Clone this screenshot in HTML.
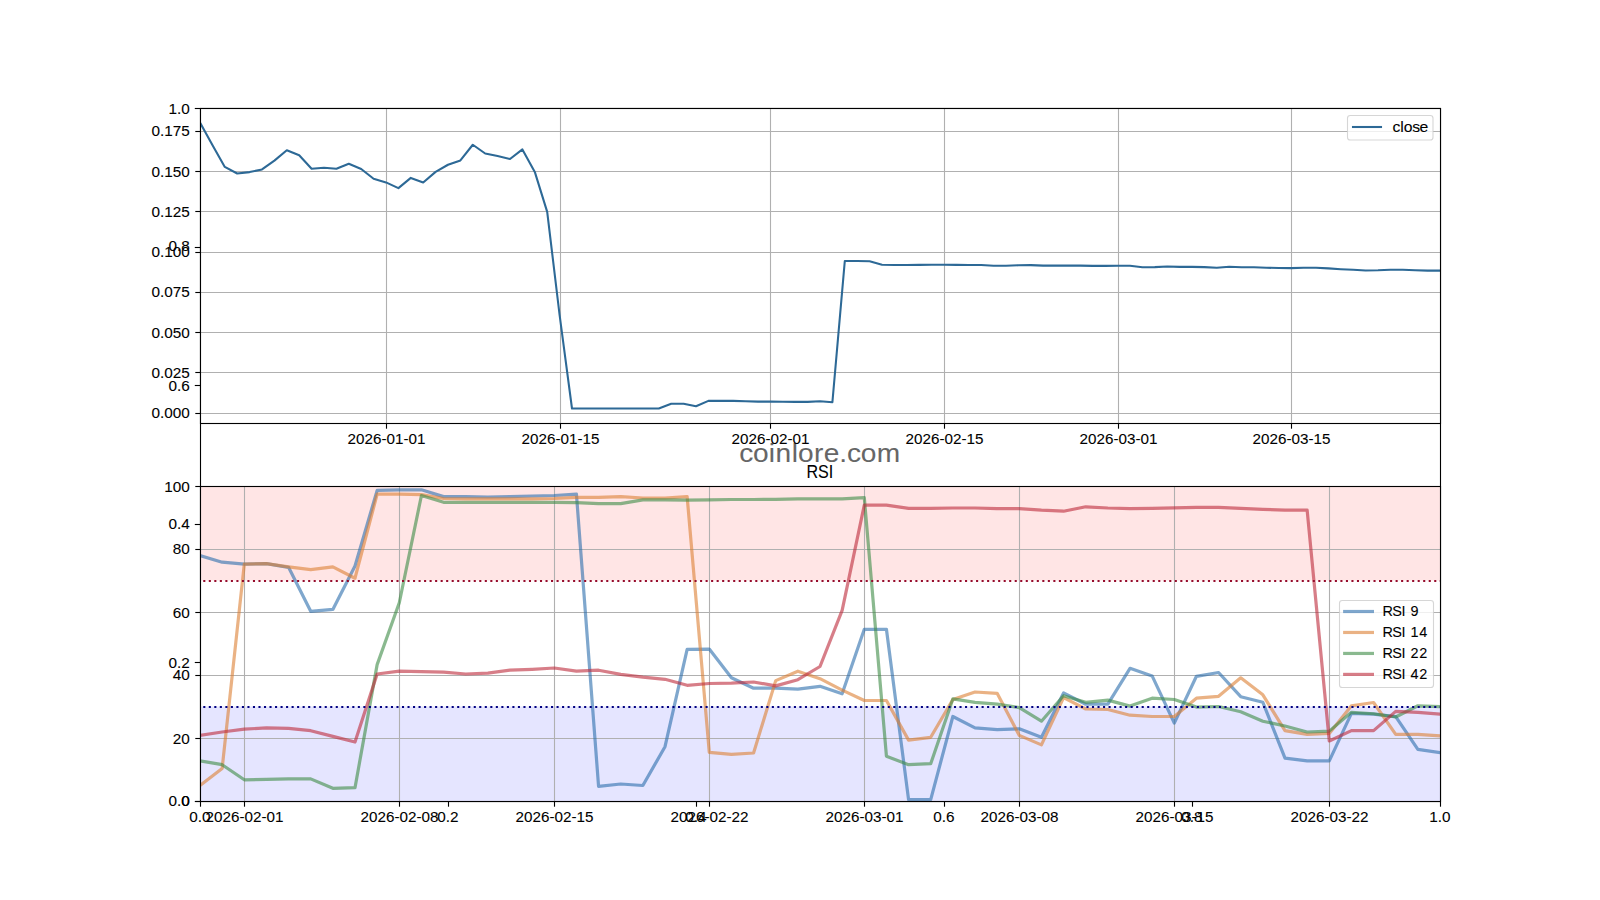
<!DOCTYPE html>
<html><head><meta charset="utf-8"><style>
html,body{margin:0;padding:0;background:#fff;}
svg{display:block;}
text{font-family:"Liberation Sans",sans-serif;stroke-width:0.08px;paint-order:stroke;}
</style></head><body>
<svg width="1600" height="900" viewBox="0 0 1600 900">
<defs><clipPath id="cTop"><rect x="200" y="108" width="1240" height="315"/></clipPath><clipPath id="cBot"><rect x="200" y="486" width="1240" height="315"/></clipPath></defs>
<rect x="0" y="0" width="1600" height="900" fill="#fff"/>
<text transform="scale(1.08,1)" x="684.54 697.26 711.91 718.12 733.02 738.98 753.71 762.69 777.10 784.26 796.98 811.74" y="462.00" font-size="26.00" fill="#666666" stroke="#666666">coinlore.com</text>
<line x1="194.80" y1="108.50" x2="200" y2="108.50" stroke="#000" stroke-width="1.11"/>
<text x="168.59" y="114.00" font-size="13.89" fill="#000" stroke="#000" textLength="21.31" lengthAdjust="spacingAndGlyphs">1.0</text>
<line x1="194.80" y1="247.50" x2="200" y2="247.50" stroke="#000" stroke-width="1.11"/>
<text x="168.59" y="251.00" font-size="13.89" fill="#000" stroke="#000" textLength="21.31" lengthAdjust="spacingAndGlyphs">0.8</text>
<line x1="194.80" y1="385.50" x2="200" y2="385.50" stroke="#000" stroke-width="1.11"/>
<text x="168.59" y="391.00" font-size="13.89" fill="#000" stroke="#000" textLength="21.31" lengthAdjust="spacingAndGlyphs">0.6</text>
<line x1="194.80" y1="524.50" x2="200" y2="524.50" stroke="#000" stroke-width="1.11"/>
<text x="168.59" y="529.00" font-size="13.89" fill="#000" stroke="#000" textLength="21.31" lengthAdjust="spacingAndGlyphs">0.4</text>
<line x1="194.80" y1="662.50" x2="200" y2="662.50" stroke="#000" stroke-width="1.11"/>
<text x="168.59" y="668.00" font-size="13.89" fill="#000" stroke="#000" textLength="21.31" lengthAdjust="spacingAndGlyphs">0.2</text>
<line x1="194.80" y1="801.50" x2="200" y2="801.50" stroke="#000" stroke-width="1.11"/>
<text x="168.59" y="806.00" font-size="13.89" fill="#000" stroke="#000" textLength="21.31" lengthAdjust="spacingAndGlyphs">0.0</text>
<line x1="200.50" y1="801.5" x2="200.50" y2="806.70" stroke="#000" stroke-width="1.11"/>
<text x="189.34" y="822.00" font-size="13.89" fill="#000" stroke="#000" textLength="21.31" lengthAdjust="spacingAndGlyphs">0.0</text>
<line x1="448.50" y1="801.5" x2="448.50" y2="806.70" stroke="#000" stroke-width="1.11"/>
<text x="437.34" y="822.00" font-size="13.89" fill="#000" stroke="#000" textLength="21.31" lengthAdjust="spacingAndGlyphs">0.2</text>
<line x1="696.50" y1="801.5" x2="696.50" y2="806.70" stroke="#000" stroke-width="1.11"/>
<text x="685.34" y="822.00" font-size="13.89" fill="#000" stroke="#000" textLength="21.31" lengthAdjust="spacingAndGlyphs">0.4</text>
<line x1="944.50" y1="801.5" x2="944.50" y2="806.70" stroke="#000" stroke-width="1.11"/>
<text x="933.34" y="822.00" font-size="13.89" fill="#000" stroke="#000" textLength="21.31" lengthAdjust="spacingAndGlyphs">0.6</text>
<line x1="1192.50" y1="801.5" x2="1192.50" y2="806.70" stroke="#000" stroke-width="1.11"/>
<text x="1181.34" y="822.00" font-size="13.89" fill="#000" stroke="#000" textLength="21.31" lengthAdjust="spacingAndGlyphs">0.8</text>
<line x1="1440.50" y1="801.5" x2="1440.50" y2="806.70" stroke="#000" stroke-width="1.11"/>
<text x="1429.34" y="822.00" font-size="13.89" fill="#000" stroke="#000" textLength="21.31" lengthAdjust="spacingAndGlyphs">1.0</text>
<rect x="200.5" y="108.5" width="1240" height="693" fill="none" stroke="#000" stroke-width="1.11"/>
<rect x="200" y="108" width="1240" height="315" fill="#fff"/>
<line x1="200" y1="413.5" x2="1440" y2="413.5" stroke="#b0b0b0" stroke-width="1.11"/>
<line x1="195.30" y1="413.5" x2="200.5" y2="413.5" stroke="#000" stroke-width="1.11"/>
<text x="151.54" y="418.00" font-size="13.89" fill="#000" stroke="#000" textLength="38.36" lengthAdjust="spacingAndGlyphs">0.000</text>
<line x1="200" y1="372.5" x2="1440" y2="372.5" stroke="#b0b0b0" stroke-width="1.11"/>
<line x1="195.30" y1="372.5" x2="200.5" y2="372.5" stroke="#000" stroke-width="1.11"/>
<text x="151.54" y="378.00" font-size="13.89" fill="#000" stroke="#000" textLength="38.36" lengthAdjust="spacingAndGlyphs">0.025</text>
<line x1="200" y1="332.5" x2="1440" y2="332.5" stroke="#b0b0b0" stroke-width="1.11"/>
<line x1="195.30" y1="332.5" x2="200.5" y2="332.5" stroke="#000" stroke-width="1.11"/>
<text x="151.54" y="338.00" font-size="13.89" fill="#000" stroke="#000" textLength="38.36" lengthAdjust="spacingAndGlyphs">0.050</text>
<line x1="200" y1="292.5" x2="1440" y2="292.5" stroke="#b0b0b0" stroke-width="1.11"/>
<line x1="195.30" y1="292.5" x2="200.5" y2="292.5" stroke="#000" stroke-width="1.11"/>
<text x="151.54" y="297.00" font-size="13.89" fill="#000" stroke="#000" textLength="38.36" lengthAdjust="spacingAndGlyphs">0.075</text>
<line x1="200" y1="252.5" x2="1440" y2="252.5" stroke="#b0b0b0" stroke-width="1.11"/>
<line x1="195.30" y1="252.5" x2="200.5" y2="252.5" stroke="#000" stroke-width="1.11"/>
<text x="151.54" y="257.00" font-size="13.89" fill="#000" stroke="#000" textLength="38.36" lengthAdjust="spacingAndGlyphs">0.100</text>
<line x1="200" y1="211.5" x2="1440" y2="211.5" stroke="#b0b0b0" stroke-width="1.11"/>
<line x1="195.30" y1="211.5" x2="200.5" y2="211.5" stroke="#000" stroke-width="1.11"/>
<text x="151.54" y="217.00" font-size="13.89" fill="#000" stroke="#000" textLength="38.36" lengthAdjust="spacingAndGlyphs">0.125</text>
<line x1="200" y1="171.5" x2="1440" y2="171.5" stroke="#b0b0b0" stroke-width="1.11"/>
<line x1="195.30" y1="171.5" x2="200.5" y2="171.5" stroke="#000" stroke-width="1.11"/>
<text x="151.54" y="177.00" font-size="13.89" fill="#000" stroke="#000" textLength="38.36" lengthAdjust="spacingAndGlyphs">0.150</text>
<line x1="200" y1="131.5" x2="1440" y2="131.5" stroke="#b0b0b0" stroke-width="1.11"/>
<line x1="195.30" y1="131.5" x2="200.5" y2="131.5" stroke="#000" stroke-width="1.11"/>
<text x="151.54" y="136.00" font-size="13.89" fill="#000" stroke="#000" textLength="38.36" lengthAdjust="spacingAndGlyphs">0.175</text>
<line x1="386.5" y1="108" x2="386.5" y2="423" stroke="#b0b0b0" stroke-width="1.11"/>
<line x1="386.5" y1="423.5" x2="386.5" y2="428.70" stroke="#000" stroke-width="1.11"/>
<text x="347.56" y="444.00" font-size="13.89" fill="#000" stroke="#000" textLength="77.87" lengthAdjust="spacingAndGlyphs">2026-01-01</text>
<line x1="560.5" y1="108" x2="560.5" y2="423" stroke="#b0b0b0" stroke-width="1.11"/>
<line x1="560.5" y1="423.5" x2="560.5" y2="428.70" stroke="#000" stroke-width="1.11"/>
<text x="521.56" y="444.00" font-size="13.89" fill="#000" stroke="#000" textLength="77.87" lengthAdjust="spacingAndGlyphs">2026-01-15</text>
<line x1="770.5" y1="108" x2="770.5" y2="423" stroke="#b0b0b0" stroke-width="1.11"/>
<line x1="770.5" y1="423.5" x2="770.5" y2="428.70" stroke="#000" stroke-width="1.11"/>
<text x="731.56" y="444.00" font-size="13.89" fill="#000" stroke="#000" textLength="77.87" lengthAdjust="spacingAndGlyphs">2026-02-01</text>
<line x1="944.5" y1="108" x2="944.5" y2="423" stroke="#b0b0b0" stroke-width="1.11"/>
<line x1="944.5" y1="423.5" x2="944.5" y2="428.70" stroke="#000" stroke-width="1.11"/>
<text x="905.56" y="444.00" font-size="13.89" fill="#000" stroke="#000" textLength="77.87" lengthAdjust="spacingAndGlyphs">2026-02-15</text>
<line x1="1118.5" y1="108" x2="1118.5" y2="423" stroke="#b0b0b0" stroke-width="1.11"/>
<line x1="1118.5" y1="423.5" x2="1118.5" y2="428.70" stroke="#000" stroke-width="1.11"/>
<text x="1079.56" y="444.00" font-size="13.89" fill="#000" stroke="#000" textLength="77.87" lengthAdjust="spacingAndGlyphs">2026-03-01</text>
<line x1="1291.5" y1="108" x2="1291.5" y2="423" stroke="#b0b0b0" stroke-width="1.11"/>
<line x1="1291.5" y1="423.5" x2="1291.5" y2="428.70" stroke="#000" stroke-width="1.11"/>
<text x="1252.56" y="444.00" font-size="13.89" fill="#000" stroke="#000" textLength="77.87" lengthAdjust="spacingAndGlyphs">2026-03-15</text>
<polyline clip-path="url(#cTop)" points="200.0,122.50 212.4,145.00 224.8,166.90 237.2,173.50 249.6,172.10 262.0,169.40 274.4,160.60 286.8,150.25 299.2,155.25 311.6,168.75 324.0,167.75 336.4,168.75 348.8,163.75 361.2,169.00 373.6,178.75 386.0,182.40 398.4,188.10 410.8,177.90 423.2,182.50 435.6,171.90 448.0,164.75 460.4,160.40 472.8,144.75 485.2,153.50 497.6,155.90 510.0,159.00 522.4,149.40 534.8,171.90 547.2,211.90 559.6,315.00 572.0,408.50 584.4,408.50 596.8,408.50 609.2,408.50 621.6,408.50 634.0,408.50 646.4,408.50 658.8,408.50 671.2,403.75 683.6,403.75 696.0,406.25 708.4,400.90 720.8,400.90 733.2,400.90 745.6,401.25 758.0,401.60 770.4,401.60 782.8,401.75 795.2,401.90 807.6,401.90 820.0,401.25 832.4,402.25 844.8,261.00 857.2,261.00 869.6,261.25 882.0,264.75 894.4,265.00 906.8,265.00 919.2,264.90 931.6,264.75 944.0,264.75 956.4,264.90 968.8,265.00 981.2,265.00 993.6,265.75 1006.0,265.75 1018.4,265.25 1030.8,265.10 1043.2,265.60 1055.6,265.60 1068.0,265.60 1080.4,265.60 1092.8,265.90 1105.2,265.90 1117.6,265.75 1130.0,265.75 1142.4,267.25 1154.8,267.10 1167.2,266.50 1179.6,266.90 1192.0,266.90 1204.4,267.10 1216.8,267.70 1229.2,266.70 1241.6,267.30 1254.0,267.20 1266.4,267.70 1278.8,268.00 1291.2,268.10 1303.6,267.70 1316.0,267.70 1328.4,268.40 1340.8,269.20 1353.2,269.80 1365.6,270.50 1378.0,270.30 1390.4,269.70 1402.8,269.80 1415.2,270.20 1427.6,270.60 1440.0,270.60" fill="none" stroke="#2d6996" stroke-width="2.08" stroke-linejoin="round" stroke-linecap="square"/>
<rect x="200.5" y="108.5" width="1240" height="315" fill="none" stroke="#000" stroke-width="1.11"/>
<rect x="1347.5" y="115.5" width="85.5" height="24.5" rx="2.8" fill="#fff" fill-opacity="0.8" stroke="#cccccc" stroke-opacity="0.8" stroke-width="1.11"/>
<line x1="1353" y1="127.0" x2="1381" y2="127.0" stroke="#2d6996" stroke-width="2.08" stroke-linecap="square"/>
<text transform="scale(1.08,1)" x="1289.24 1296.59 1299.88 1307.57 1314.47" y="132.00" font-size="14.58" fill="#000" stroke="#000">close</text>
<rect x="200" y="486" width="1240" height="315" fill="#fff"/>
<rect x="200" y="486.0" width="1240" height="94.50" fill="#ff0000" fill-opacity="0.1"/>
<rect x="200" y="706.5" width="1240" height="94.50" fill="#0000ff" fill-opacity="0.1"/>
<line x1="195.30" y1="801.5" x2="200.5" y2="801.5" stroke="#000" stroke-width="1.11"/>
<text x="181.38" y="806.00" font-size="13.89" fill="#000" stroke="#000" textLength="8.52" lengthAdjust="spacingAndGlyphs">0</text>
<line x1="200" y1="738.5" x2="1440" y2="738.5" stroke="#b0b0b0" stroke-width="1.11"/>
<line x1="195.30" y1="738.5" x2="200.5" y2="738.5" stroke="#000" stroke-width="1.11"/>
<text x="172.85" y="744.00" font-size="13.89" fill="#000" stroke="#000" textLength="17.05" lengthAdjust="spacingAndGlyphs">20</text>
<line x1="200" y1="675.5" x2="1440" y2="675.5" stroke="#b0b0b0" stroke-width="1.11"/>
<line x1="195.30" y1="675.5" x2="200.5" y2="675.5" stroke="#000" stroke-width="1.11"/>
<text x="172.85" y="680.00" font-size="13.89" fill="#000" stroke="#000" textLength="17.05" lengthAdjust="spacingAndGlyphs">40</text>
<line x1="200" y1="612.5" x2="1440" y2="612.5" stroke="#b0b0b0" stroke-width="1.11"/>
<line x1="195.30" y1="612.5" x2="200.5" y2="612.5" stroke="#000" stroke-width="1.11"/>
<text x="172.85" y="618.00" font-size="13.89" fill="#000" stroke="#000" textLength="17.05" lengthAdjust="spacingAndGlyphs">60</text>
<line x1="200" y1="549.5" x2="1440" y2="549.5" stroke="#b0b0b0" stroke-width="1.11"/>
<line x1="195.30" y1="549.5" x2="200.5" y2="549.5" stroke="#000" stroke-width="1.11"/>
<text x="172.85" y="554.00" font-size="13.89" fill="#000" stroke="#000" textLength="17.05" lengthAdjust="spacingAndGlyphs">80</text>
<line x1="195.30" y1="486.5" x2="200.5" y2="486.5" stroke="#000" stroke-width="1.11"/>
<text x="164.33" y="492.00" font-size="13.89" fill="#000" stroke="#000" textLength="25.57" lengthAdjust="spacingAndGlyphs">100</text>
<line x1="244.5" y1="486" x2="244.5" y2="801" stroke="#b0b0b0" stroke-width="1.11"/>
<line x1="244.5" y1="801.5" x2="244.5" y2="806.70" stroke="#000" stroke-width="1.11"/>
<text x="205.56" y="822.00" font-size="13.89" fill="#000" stroke="#000" textLength="77.87" lengthAdjust="spacingAndGlyphs">2026-02-01</text>
<line x1="399.5" y1="486" x2="399.5" y2="801" stroke="#b0b0b0" stroke-width="1.11"/>
<line x1="399.5" y1="801.5" x2="399.5" y2="806.70" stroke="#000" stroke-width="1.11"/>
<text x="360.56" y="822.00" font-size="13.89" fill="#000" stroke="#000" textLength="77.87" lengthAdjust="spacingAndGlyphs">2026-02-08</text>
<line x1="554.5" y1="486" x2="554.5" y2="801" stroke="#b0b0b0" stroke-width="1.11"/>
<line x1="554.5" y1="801.5" x2="554.5" y2="806.70" stroke="#000" stroke-width="1.11"/>
<text x="515.56" y="822.00" font-size="13.89" fill="#000" stroke="#000" textLength="77.87" lengthAdjust="spacingAndGlyphs">2026-02-15</text>
<line x1="709.5" y1="486" x2="709.5" y2="801" stroke="#b0b0b0" stroke-width="1.11"/>
<line x1="709.5" y1="801.5" x2="709.5" y2="806.70" stroke="#000" stroke-width="1.11"/>
<text x="670.56" y="822.00" font-size="13.89" fill="#000" stroke="#000" textLength="77.87" lengthAdjust="spacingAndGlyphs">2026-02-22</text>
<line x1="864.5" y1="486" x2="864.5" y2="801" stroke="#b0b0b0" stroke-width="1.11"/>
<line x1="864.5" y1="801.5" x2="864.5" y2="806.70" stroke="#000" stroke-width="1.11"/>
<text x="825.56" y="822.00" font-size="13.89" fill="#000" stroke="#000" textLength="77.87" lengthAdjust="spacingAndGlyphs">2026-03-01</text>
<line x1="1019.5" y1="486" x2="1019.5" y2="801" stroke="#b0b0b0" stroke-width="1.11"/>
<line x1="1019.5" y1="801.5" x2="1019.5" y2="806.70" stroke="#000" stroke-width="1.11"/>
<text x="980.56" y="822.00" font-size="13.89" fill="#000" stroke="#000" textLength="77.87" lengthAdjust="spacingAndGlyphs">2026-03-08</text>
<line x1="1174.5" y1="486" x2="1174.5" y2="801" stroke="#b0b0b0" stroke-width="1.11"/>
<line x1="1174.5" y1="801.5" x2="1174.5" y2="806.70" stroke="#000" stroke-width="1.11"/>
<text x="1135.56" y="822.00" font-size="13.89" fill="#000" stroke="#000" textLength="77.87" lengthAdjust="spacingAndGlyphs">2026-03-15</text>
<line x1="1329.5" y1="486" x2="1329.5" y2="801" stroke="#b0b0b0" stroke-width="1.11"/>
<line x1="1329.5" y1="801.5" x2="1329.5" y2="806.70" stroke="#000" stroke-width="1.11"/>
<text x="1290.56" y="822.00" font-size="13.89" fill="#000" stroke="#000" textLength="77.87" lengthAdjust="spacingAndGlyphs">2026-03-22</text>
<polyline clip-path="url(#cBot)" points="200.00,555.60 222.14,562.20 244.29,564.10 266.43,563.70 288.57,567.30 310.71,611.30 332.86,609.40 355.00,566.00 377.14,490.40 399.29,489.80 421.43,489.80 443.57,496.60 465.71,496.60 487.86,497.00 510.00,496.60 532.14,496.00 554.29,495.50 576.43,494.20 598.57,786.40 620.71,784.00 642.86,785.50 665.00,746.70 687.14,649.40 709.29,649.10 731.43,677.80 753.57,688.20 775.71,688.20 797.86,689.10 820.00,686.30 842.14,693.80 864.29,629.30 886.43,629.30 908.57,799.60 930.71,799.60 952.86,716.50 975.00,727.90 997.14,729.70 1019.29,728.80 1041.43,737.30 1063.57,692.90 1085.71,704.20 1107.86,704.20 1130.00,668.30 1152.14,675.90 1174.29,723.10 1196.43,676.30 1218.57,672.50 1240.71,696.70 1262.86,702.30 1285.00,758.10 1307.14,760.90 1329.29,760.90 1351.43,713.30 1373.57,714.20 1395.71,716.60 1417.86,749.40 1440.00,752.70" fill="none" stroke="#2a6cab" stroke-opacity="0.6" stroke-width="3.2" stroke-linejoin="round" stroke-linecap="square"/>
<polyline clip-path="url(#cBot)" points="200.00,785.50 222.14,768.50 244.29,564.10 266.43,563.70 288.57,566.90 310.71,569.70 332.86,566.90 355.00,578.20 377.14,494.20 399.29,494.20 421.43,494.70 443.57,498.50 465.71,498.90 487.86,498.90 510.00,498.90 532.14,498.90 554.29,498.50 576.43,497.40 598.57,497.40 620.71,496.60 642.86,498.00 665.00,498.00 687.14,496.60 709.29,752.40 731.43,754.30 753.57,753.00 775.71,680.60 797.86,671.20 820.00,678.70 842.14,690.10 864.29,700.50 886.43,700.50 908.57,740.10 930.71,737.30 952.86,699.50 975.00,692.00 997.14,693.30 1019.29,735.40 1041.43,744.90 1063.57,697.60 1085.71,709.00 1107.86,709.50 1130.00,715.20 1152.14,716.50 1174.29,716.50 1196.43,698.20 1218.57,696.30 1240.71,677.80 1262.86,694.80 1285.00,730.70 1307.14,734.40 1329.29,733.40 1351.43,705.80 1373.57,702.50 1395.71,734.40 1417.86,734.40 1440.00,735.80" fill="none" stroke="#dc7f32" stroke-opacity="0.6" stroke-width="3.2" stroke-linejoin="round" stroke-linecap="square"/>
<polyline clip-path="url(#cBot)" points="200.00,760.90 222.14,764.70 244.29,779.80 266.43,779.40 288.57,778.90 310.71,778.90 332.86,788.30 355.00,787.70 377.14,664.60 399.29,602.80 421.43,495.50 443.57,502.30 465.71,502.30 487.86,502.30 510.00,502.30 532.14,502.30 554.29,502.30 576.43,502.70 598.57,503.60 620.71,503.60 642.86,499.80 665.00,499.80 687.14,500.20 709.29,499.80 731.43,499.50 753.57,499.50 775.71,499.30 797.86,498.90 820.00,498.90 842.14,498.90 864.29,497.60 886.43,756.20 908.57,764.70 930.71,763.70 952.86,698.90 975.00,702.30 997.14,704.20 1019.29,707.60 1041.43,721.20 1063.57,695.70 1085.71,702.30 1107.86,700.10 1130.00,706.10 1152.14,698.20 1174.29,699.50 1196.43,707.10 1218.57,706.50 1240.71,711.80 1262.86,721.20 1285.00,726.00 1307.14,732.00 1329.29,731.10 1351.43,712.30 1373.57,713.75 1395.71,717.00 1417.86,705.80 1440.00,706.70" fill="none" stroke="#3c8a44" stroke-opacity="0.6" stroke-width="3.2" stroke-linejoin="round" stroke-linecap="square"/>
<polyline clip-path="url(#cBot)" points="200.00,735.40 222.14,732.00 244.29,729.20 266.43,727.90 288.57,728.40 310.71,730.70 332.86,736.40 355.00,742.00 377.14,674.00 399.29,671.20 421.43,671.60 443.57,672.10 465.71,674.00 487.86,673.10 510.00,670.20 532.14,669.30 554.29,668.00 576.43,671.20 598.57,670.20 620.71,674.40 642.86,677.20 665.00,679.30 687.14,685.30 709.29,683.50 731.43,683.10 753.57,682.00 775.71,685.90 797.86,679.70 820.00,666.50 842.14,610.40 864.29,505.10 886.43,505.10 908.57,508.30 930.71,508.30 952.86,508.00 975.00,508.00 997.14,508.70 1019.29,508.70 1041.43,510.20 1063.57,511.20 1085.71,506.80 1107.86,508.00 1130.00,508.70 1152.14,508.30 1174.29,507.80 1196.43,507.40 1218.57,507.40 1240.71,508.30 1262.86,509.30 1285.00,510.20 1307.14,510.20 1329.29,741.00 1351.43,730.60 1373.57,730.60 1395.71,711.40 1417.86,712.30 1440.00,714.20" fill="none" stroke="#bc2838" stroke-opacity="0.6" stroke-width="3.2" stroke-linejoin="round" stroke-linecap="square"/>
<line x1="200" y1="581" x2="1440" y2="581" stroke="#960c2c" stroke-width="2.08" stroke-dasharray="2.08 3.44" stroke-dashoffset="2.26"/>
<line x1="200" y1="707" x2="1440" y2="707" stroke="#000080" stroke-width="2.08" stroke-dasharray="2.08 3.44" stroke-dashoffset="2.26"/>
<rect x="200.5" y="486.5" width="1240" height="315" fill="none" stroke="#000" stroke-width="1.11"/>
<text transform="scale(0.91,1)" x="886.20 898.87 910.82" y="477.70" font-size="17.67" fill="#000" stroke="#000">RSI</text>
<rect x="1339.5" y="600.5" width="94" height="87" rx="2.8" fill="#fff" fill-opacity="0.8" stroke="#cccccc" stroke-opacity="0.8" stroke-width="1.11"/>
<line x1="1344.7" y1="611.50" x2="1372.4" y2="611.50" stroke="#2a6cab" stroke-opacity="0.6" stroke-width="3.2" stroke-linecap="square"/>
<text transform="scale(0.99,1)" x="1396.58 1406.31 1415.67 1419.97 1424.64" y="616.10" font-size="14.58" fill="#000" stroke="#000">RSI&#160;9</text>
<line x1="1344.7" y1="632.47" x2="1372.4" y2="632.47" stroke="#dc7f32" stroke-opacity="0.6" stroke-width="3.2" stroke-linecap="square"/>
<text transform="scale(0.99,1)" x="1396.58 1406.31 1415.67 1419.97 1424.64 1433.56" y="637.07" font-size="14.58" fill="#000" stroke="#000">RSI&#160;14</text>
<line x1="1344.7" y1="653.44" x2="1372.4" y2="653.44" stroke="#3c8a44" stroke-opacity="0.6" stroke-width="3.2" stroke-linecap="square"/>
<text transform="scale(0.99,1)" x="1396.58 1406.31 1415.67 1419.97 1424.64 1433.56" y="658.04" font-size="14.58" fill="#000" stroke="#000">RSI&#160;22</text>
<line x1="1344.7" y1="674.41" x2="1372.4" y2="674.41" stroke="#bc2838" stroke-opacity="0.6" stroke-width="3.2" stroke-linecap="square"/>
<text transform="scale(0.99,1)" x="1396.58 1406.31 1415.67 1419.97 1424.64 1433.56" y="679.01" font-size="14.58" fill="#000" stroke="#000">RSI&#160;42</text>
</svg>
</body></html>
